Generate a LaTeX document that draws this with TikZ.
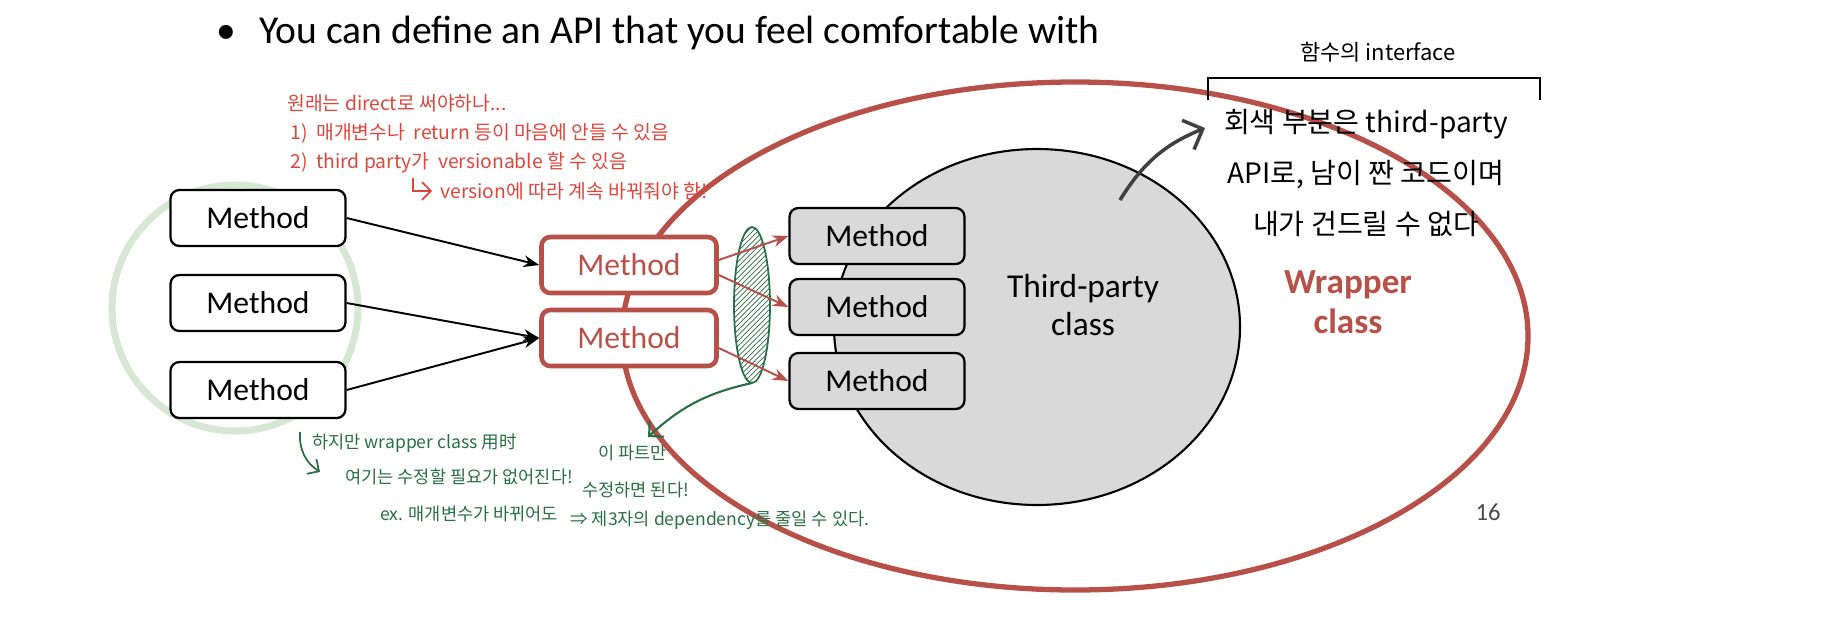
\documentclass[tikz,border=0pt]{standalone}
\usepackage{fontspec}
\setmainfont{Carlito}
\newfontfamily\kr{Noto Sans CJK KR}
\usetikzlibrary{arrows.meta,patterns}
\definecolor{wred}{RGB}{184,80,74}
\definecolor{lgreen}{RGB}{214,232,212}
\definecolor{dgreen}{RGB}{40,110,70}
\definecolor{nred}{RGB}{220,70,60}
\definecolor{gfill}{RGB}{217,217,217}
\tikzset{
 mbox/.style={draw,rounded corners=5pt,line width=1.3pt,minimum width=3.5cm,minimum height=1.12cm,font=\fontsize{18}{20}\selectfont,fill=white},
 rbox/.style={mbox,draw=wred,line width=2.6pt,text=wred},
 gbox/.style={mbox,fill=gfill},
 arr/.style={-{Stealth[length=9pt]},line width=1.1pt},
 rnote/.style={text=nred,font=\kr\fontsize{11}{13}\selectfont,anchor=west,inner sep=0},
 gnote/.style={text=dgreen,font=\kr\fontsize{10}{12}\selectfont,anchor=west,inner sep=0},
}
\begin{document}
\begin{tikzpicture}[x=0.02cm,y=-0.02cm]
\useasboundingbox (0,0) rectangle (1828,636);
\node[anchor=west,font=\fontsize{22.5}{26}\selectfont] (title) at (210,33) {\textbullet\hspace{0.6em}You can define an API that you feel comfortable with};
\draw[lgreen,line width=4pt] (235,308) circle [radius=123];
\draw[wred,line width=3pt] (1075,336) ellipse [x radius=453, y radius=254];
\draw[fill=gfill,line width=1.2pt] (1037,327) ellipse [x radius=203, y radius=178];
\node[font=\fontsize{19}{22}\selectfont,align=center] (tp) at (1083,305) {Third-party\\class};
\node[font=\bfseries\fontsize{20}{23}\selectfont,align=center,text=wred] (wc) at (1348,302) {Wrapper\\class};
\node[mbox] (l1) at (258,218) {Method};
\node[mbox] (l2) at (258,303) {Method};
\node[mbox] (l3) at (258,390) {Method};
\node[rbox] (m1) at (629,265) {Method};
\node[rbox] (m2) at (629,338) {Method};
\node[gbox] (r1) at (877,236) {Method};
\node[gbox] (r2) at (877,307) {Method};
\node[gbox] (r3) at (877,381) {Method};
\draw[dgreen,line width=1pt,pattern=north east lines,pattern color=dgreen] (752,305) ellipse [x radius=18, y radius=78];
\draw[arr] (l1.east) -- (m1.west);
\draw[arr] (l2.east) -- (m2.west);
\draw[arr] (l3.east) -- (m2.west);
\draw[arr,wred] ([yshift=0.1cm]m1.east) -- (r1.west);
\draw[arr,wred] ([yshift=-0.2cm]m1.east) -- (r2.west);
\draw[arr,wred] ([yshift=-0.2cm]m2.east) -- (r3.west);
% right side notes
\node[font=\kr\fontsize{12.5}{14}\selectfont] (hi) at (1378,52) {함수의 interface};
\draw[line width=1.2pt] (1208,100) -- (1208,78) -- (1540,78) -- (1540,100);
\node[font=\kr\fontsize{16}{29}\selectfont,align=center] (gray) at (1366,173) {회색 부분은 third-party\\API로, 남이 짠 코드이며\\내가 건드릴 수 없다};
\coordinate (ga) at (1120,200);
\draw[-{Straight Barb[length=9pt]},line width=2pt,black!75] (ga) to[bend left=18] (1205,128);
% red notes
\node[rnote] (n0) at (287,103) {원래는 direct로 써야하나...};
\node[rnote] (n1) at (290,133) {1)\ \ 매개변수나\ \ return 등이 마음에 안들 수 있음};
\node[rnote] (n2) at (290,163) {2)\ \ third party가\ \ versionable 할 수 있음};
\node[rnote] (n3) at (440,191) {version에 따라 계속 바꿔줘야 함!};
\draw[nred,line width=1pt,-{Straight Barb[length=5pt]}] (413,178) -- (413,191) -- (432,191);
% green notes
\node[gnote] (g1) at (312,443) {하지만 wrapper class 用时};
\node[gnote] (g2) at (345,477) {여기는 수정할 필요가 없어진다!};
\node[gnote] (g3) at (380,514) {ex. 매개변수가 바뀌어도};
\draw[dgreen,line width=1pt,-{Straight Barb[length=5pt]}] (300,432) to[bend right=30] (320,472);
\node[gnote] (g4) at (598,453) {이 파트만};
\node[gnote] (g5) at (582,490) {수정하면 된다!};
\node[gnote] (g6) at (570,520) {⇒ 제3자의 dependency를 줄일 수 있다.};
\coordinate (hb) at (752,383);
\draw[dgreen,line width=1.2pt,-{Straight Barb[length=6pt]}] (hb) to[bend right=15] (648,437);
\node[font=\fontsize{14}{16}\selectfont,text=black!70] (pg) at (1488,512) {16};
\end{tikzpicture}
\end{document}
